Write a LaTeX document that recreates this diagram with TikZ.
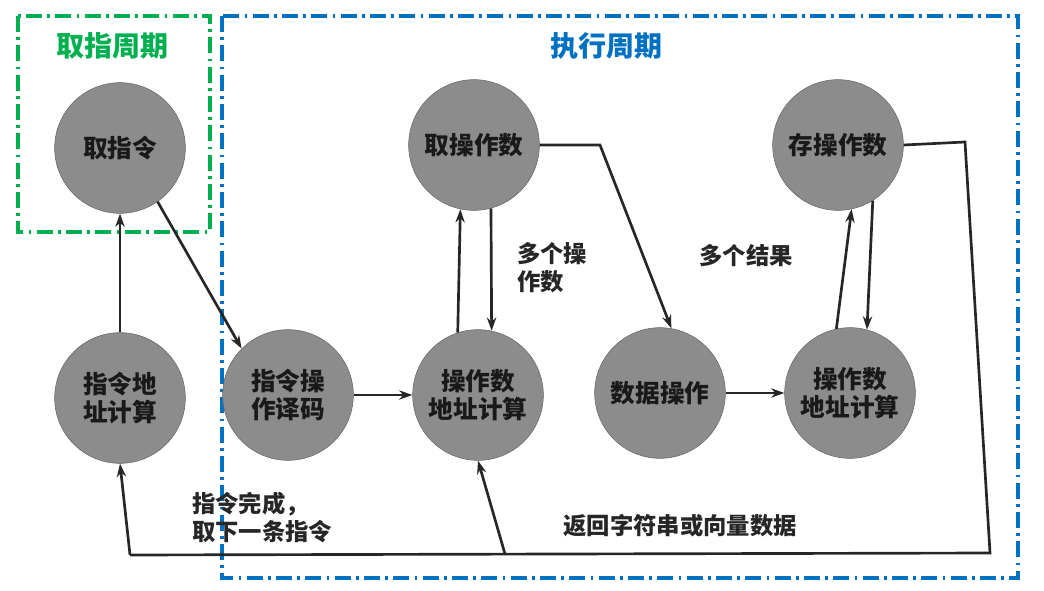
\documentclass[tikz,border=0pt]{standalone}
\usepackage{fontspec}
\newfontfamily\cjk{Noto Sans CJK SC}
\usetikzlibrary{arrows.meta}
\definecolor{cgreen}{RGB}{0,176,80}
\definecolor{cblue}{RGB}{0,112,192}
\definecolor{cgray}{RGB}{140,140,140}
\begin{document}
\begin{tikzpicture}[x=0.75pt,y=-0.75pt,
  st/.style={circle,fill=cgray,draw=gray!80!black,minimum size=98pt,inner sep=0pt,align=center,font=\cjk\bfseries\fontsize{18.5}{21}\selectfont,text=black!90},
  ar/.style={-{Stealth[length=10pt,width=7pt]},line width=2pt,black!85},
  ln/.style={line width=2pt,black!85},
  lb/.style={font=\cjk\bfseries\fontsize{17.5}{21}\selectfont,text=black!85,align=left}]
\useasboundingbox (0,0) rectangle (1044,591);
\draw[cgreen,line width=2.5pt,dash pattern=on 12pt off 4pt on 2pt off 4pt] (18,16) rectangle (210,232);
\draw[cblue,line width=2.5pt,dash pattern=on 12pt off 4pt on 2pt off 4pt] (222,16) rectangle (1018,578);
\node[text=cgreen,font=\cjk\bfseries\fontsize{21}{24}\selectfont] (tg) at (112,46) {取指周期};
\node[text=cblue,font=\cjk\bfseries\fontsize{21}{24}\selectfont] (tb) at (606,46) {执行周期};
\node[st] (qz) at (120,148) {取指令};
\node[st] (zd) at (120,398) {指令地\\址计算};
\node[st] (ym) at (288,395) {指令操\\作译码};
\node[st] (d1) at (478,395) {操作数\\地址计算};
\node[st] (qc) at (474,145) {取操作数};
\node[st] (sj) at (660,393) {数据操作};
\node[st] (d2) at (850,393) {操作数\\地址计算};
\node[st] (cc) at (838,145) {存操作数};
\draw[ar] (zd) -- (qz);
\draw[ar] (qz.-55) -- (ym.135);
\draw[ar] (ym) -- (d1);
\draw[ar] (d1.108) -- (qc.-102);
\draw[ar] (qc.-75) -- (d1.78);
\draw[ar] (qc.east) -- (600,145) -- (sj.80);
\draw[ar] (sj) -- (d2);
\draw[ar] (d2.102) -- (cc.-78);
\draw[ar] (cc.-58) -- (d2.75);
\coordinate (c1) at (965,142);
\coordinate (c2) at (990,553);
\coordinate (c3) at (130,555);
\coordinate (c4) at (505,554);
\draw[ln] (cc.east) -- (c1) -- (c2) -- (c3);
\draw[ar] (c3) -- (zd.south);
\draw[ar] (c4) -- (d1.south);
\node[lb] (l1) at (552,268) {多个操\\作数};
\node[lb] (l2) at (746,256) {多个结果};
\node[lb] (l3) at (262,518) {指令完成，\\取下一条指令};
\node[lb] (l4) at (680,526) {返回字符串或向量数据};
\end{tikzpicture}
\end{document}
